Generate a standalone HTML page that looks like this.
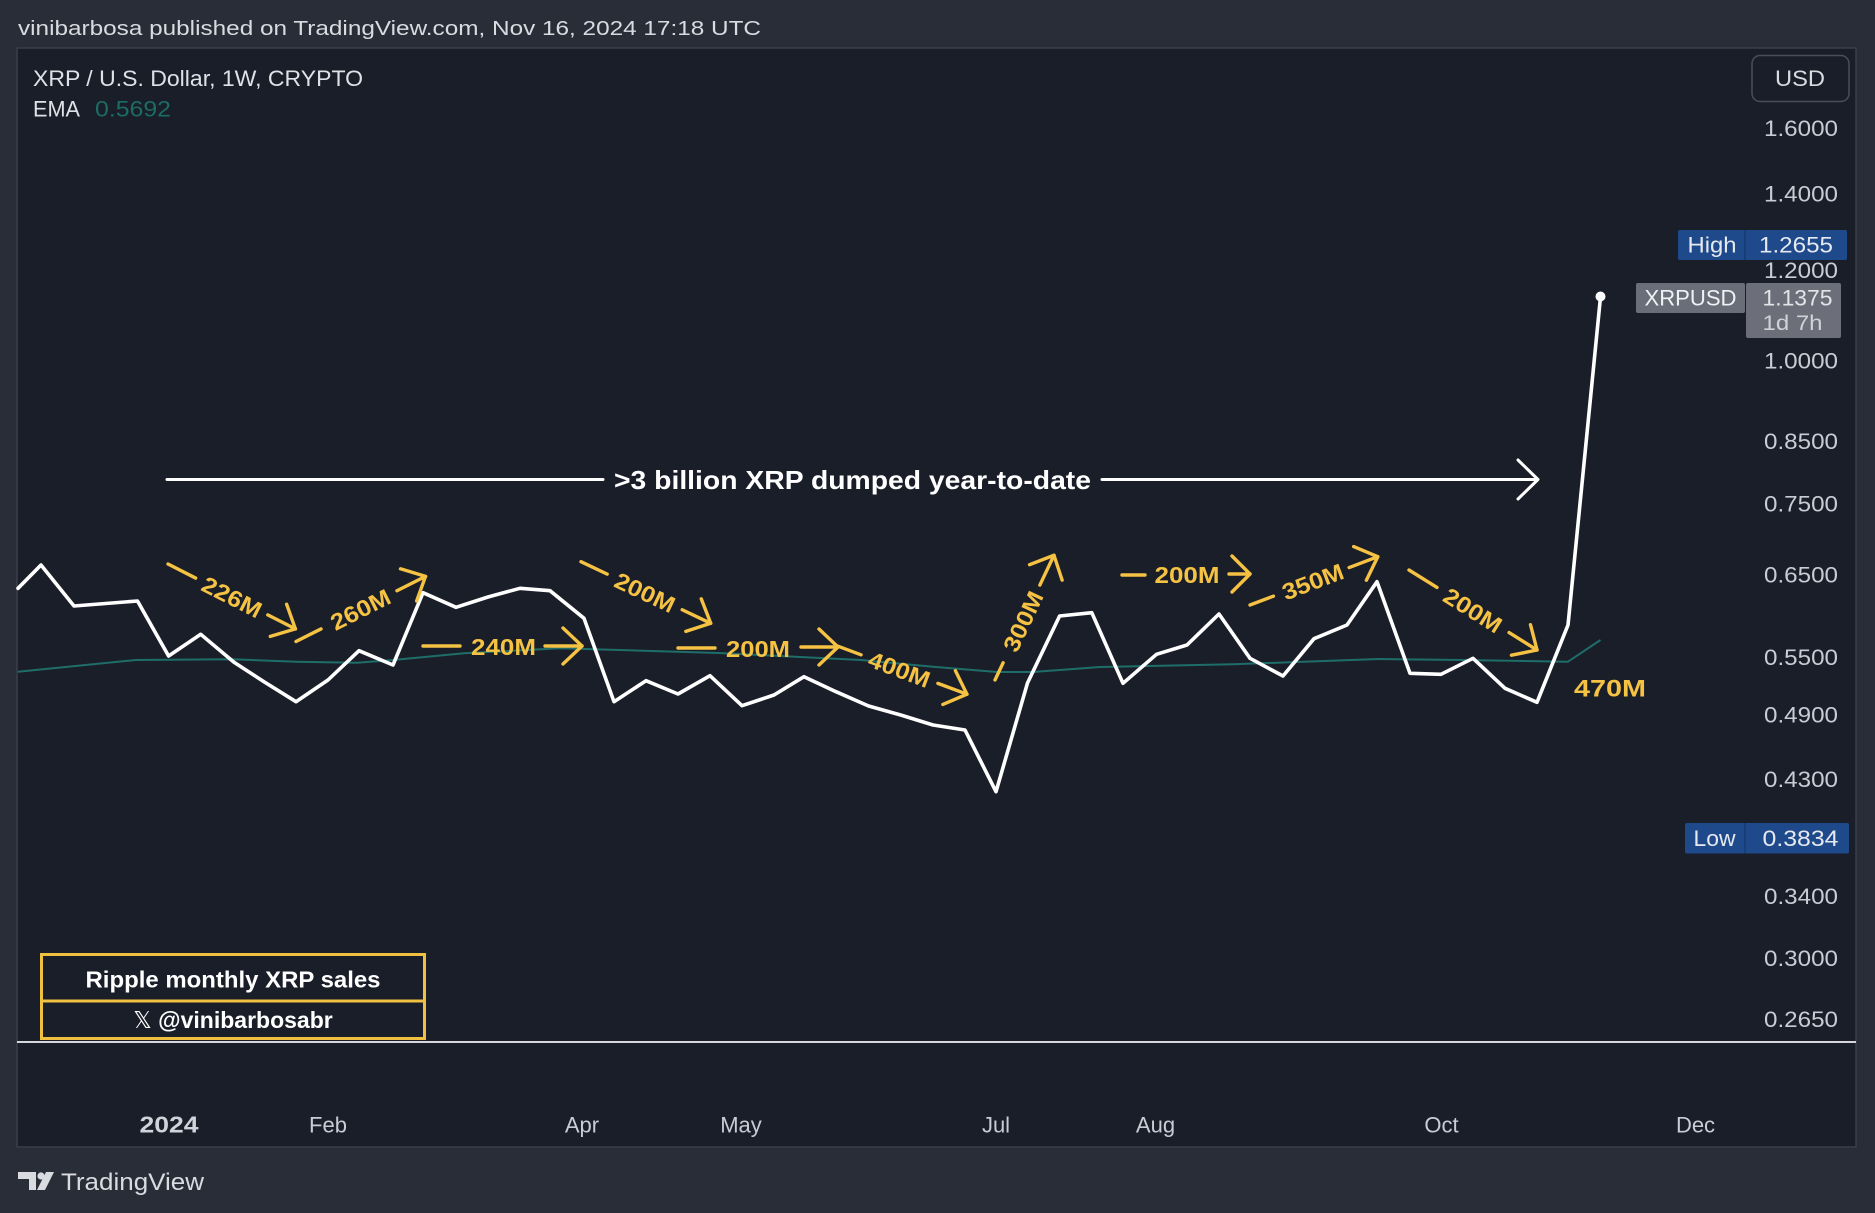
<!DOCTYPE html>
<html><head><meta charset="utf-8"><style>
html,body{margin:0;padding:0;background:#292d38;}
svg{display:block;}
text{font-family:"Liberation Sans",Arial,sans-serif;}
</style></head><body>
<svg width="1875" height="1213" viewBox="0 0 1875 1213" xmlns="http://www.w3.org/2000/svg">
<rect x="0" y="0" width="1875" height="1213" fill="#292d38"/>
<text x="18" y="35" font-size="20" fill="#d9dbe0" textLength="743" lengthAdjust="spacingAndGlyphs">vinibarbosa published on TradingView.com, Nov 16, 2024 17:18 UTC</text>
<rect x="17" y="48" width="1839" height="1099" fill="#1a1e29" stroke="#3a3e49" stroke-width="1.5"/>

<!-- title -->
<text x="33" y="86" font-size="22" fill="#dfe1e6" textLength="330" lengthAdjust="spacingAndGlyphs">XRP / U.S. Dollar, 1W, CRYPTO</text>
<text x="33" y="116.5" font-size="22" fill="#dfe1e6" textLength="47" lengthAdjust="spacingAndGlyphs">EMA</text>
<text x="95" y="116.5" font-size="22" fill="#1b6c65" textLength="76" lengthAdjust="spacingAndGlyphs">0.5692</text>

<!-- USD box -->
<rect x="1752" y="55.5" width="97" height="46" rx="8" fill="#1a1e29" stroke="#4a4e59" stroke-width="1.5"/>
<text x="1800" y="86" font-size="22" fill="#d9dbe0" text-anchor="middle" textLength="50" lengthAdjust="spacingAndGlyphs">USD</text>

<!-- price labels -->
<g font-size="22" fill="#c9ccd4" text-anchor="end">
<text x="1838" y="136" textLength="74" lengthAdjust="spacingAndGlyphs">1.6000</text>
<text x="1838" y="201.5" textLength="74" lengthAdjust="spacingAndGlyphs">1.4000</text>
<text x="1838" y="278" textLength="74" lengthAdjust="spacingAndGlyphs">1.2000</text>
<text x="1838" y="368.5" textLength="74" lengthAdjust="spacingAndGlyphs">1.0000</text>
<text x="1838" y="449" textLength="74" lengthAdjust="spacingAndGlyphs">0.8500</text>
<text x="1838" y="511.5" textLength="74" lengthAdjust="spacingAndGlyphs">0.7500</text>
<text x="1838" y="582.5" textLength="74" lengthAdjust="spacingAndGlyphs">0.6500</text>
<text x="1838" y="665" textLength="74" lengthAdjust="spacingAndGlyphs">0.5500</text>
<text x="1838" y="722.5" textLength="74" lengthAdjust="spacingAndGlyphs">0.4900</text>
<text x="1838" y="787" textLength="74" lengthAdjust="spacingAndGlyphs">0.4300</text>
<text x="1838" y="904" textLength="74" lengthAdjust="spacingAndGlyphs">0.3400</text>
<text x="1838" y="966" textLength="74" lengthAdjust="spacingAndGlyphs">0.3000</text>
<text x="1838" y="1027" textLength="74" lengthAdjust="spacingAndGlyphs">0.2650</text>
</g>

<!-- High -->
<rect x="1678" y="230" width="169" height="30" rx="2" fill="#1e4a8c"/>
<line x1="1745" y1="230" x2="1745" y2="260" stroke="#163a70" stroke-width="1.5"/>
<text x="1712" y="252.5" font-size="22" fill="#e6e9ef" text-anchor="middle" textLength="49" lengthAdjust="spacingAndGlyphs">High</text>
<text x="1796" y="252.5" font-size="22" fill="#e6e9ef" text-anchor="middle" textLength="74" lengthAdjust="spacingAndGlyphs">1.2655</text>

<!-- XRPUSD -->
<rect x="1636" y="283" width="109" height="30" rx="2" fill="#6a6e79"/>
<text x="1690.5" y="305.5" font-size="22" fill="#f0f1f4" text-anchor="middle" textLength="92" lengthAdjust="spacingAndGlyphs">XRPUSD</text>
<rect x="1746" y="283" width="95" height="55" rx="2" fill="#6c6f79"/>
<text x="1762.5" y="305.5" font-size="22" fill="#e4e5e9" textLength="70" lengthAdjust="spacingAndGlyphs">1.1375</text>
<text x="1762.5" y="330" font-size="21" fill="#d0d2d8" textLength="60" lengthAdjust="spacingAndGlyphs">1d 7h</text>

<!-- Low -->
<rect x="1685" y="823" width="164" height="30.5" rx="2" fill="#1e4a8c"/>
<line x1="1745" y1="823" x2="1745" y2="853.5" stroke="#163a70" stroke-width="1.5"/>
<text x="1714.5" y="846" font-size="22" fill="#e6e9ef" text-anchor="middle" textLength="42" lengthAdjust="spacingAndGlyphs">Low</text>
<text x="1800.5" y="846" font-size="22" fill="#e6e9ef" text-anchor="middle" textLength="76" lengthAdjust="spacingAndGlyphs">0.3834</text>

<!-- EMA line -->
<polyline fill="none" stroke="#1f6d69" stroke-width="2" stroke-linejoin="round" points="18,671.7 136,660 232,659.3 296,661.7 357,662.7 393,660 464,653.3 560,648.3 718.6,653 861,660 933,666.7 997,672 1033,672 1100,667 1233,664.3 1378.5,659 1463,660 1568,661.7 1600.5,640"/>

<!-- price line -->
<polyline fill="none" stroke="#ffffff" stroke-width="3.6" stroke-linejoin="round" stroke-linecap="round" points="18,588.3 41,565 74,606 105.6,603.5 137.5,601 168.6,656 200.7,634.3 234,662.3 264.4,682 296,701.7 328,680 359,650.7 393,665 423,592.7 456,607.3 488,597 520,588.3 550,590.7 584,618.3 614,701.7 646,680.7 678,694 710,675.7 742,705.7 774,695 804,676.7 836,691.7 868.6,706 900.7,715 933,725 965,730 996,791.7 1027.5,683 1059.6,616 1091.8,612.7 1123,683.3 1156.5,654.3 1187,645 1219,614 1250,658.3 1283,676 1314,638.7 1347,625 1377,581.7 1410,673.3 1441,674.3 1473,658.3 1505,688.3 1537,702.3 1568,625 1600.5,297"/>
<circle cx="1600.5" cy="296.5" r="5" fill="#ffffff"/>

<!-- big annotation -->
<g stroke="#ffffff" stroke-width="3" fill="none" stroke-linecap="round" stroke-linejoin="round">
<line x1="167" y1="479.5" x2="603" y2="479.5"/>
<line x1="1102" y1="479.5" x2="1537" y2="479.5"/>
<polyline points="1518,460 1538,479.5 1518,499"/>
</g>
<text x="614" y="489" font-size="26" font-weight="bold" fill="#ffffff" textLength="477" lengthAdjust="spacingAndGlyphs">&gt;3 billion XRP dumped year-to-date</text>

<!-- yellow annotations -->
<g stroke="#f5c243" stroke-width="3.4" fill="none" stroke-linecap="round" stroke-linejoin="round">
<line x1="423" y1="646" x2="460" y2="646"/>
<line x1="545" y1="646" x2="582" y2="646"/>
<polyline points="563,628 582,646 563,664"/>
<line x1="678" y1="648" x2="715" y2="648"/>
<line x1="801" y1="647" x2="838" y2="647"/>
<polyline points="819,629 838,647 819,665"/>
<line x1="1122" y1="575" x2="1145" y2="575"/>
<line x1="1229" y1="574" x2="1250" y2="574"/>
<polyline points="1232,556 1250,574 1232,592"/>
</g>
<g font-size="23" font-weight="bold" fill="#f5c243" text-anchor="middle">
<text x="503.5" y="655" textLength="65" lengthAdjust="spacingAndGlyphs">240M</text>
<text x="758" y="657" textLength="64" lengthAdjust="spacingAndGlyphs">200M</text>
<text x="1187" y="583" textLength="65" lengthAdjust="spacingAndGlyphs">200M</text>
</g>

<!-- rotated annotations -->
<g font-size="23" font-weight="bold" fill="#f5c243" text-anchor="middle">
<g transform="translate(168,564) rotate(27)">
<g stroke="#f5c243" stroke-width="3.4" fill="none" stroke-linecap="round" stroke-linejoin="round"><line x1="0" y1="0" x2="31" y2="0"/><line x1="112" y1="0" x2="143" y2="0"/><polyline points="124,-18 143,0 124,18"/></g>
<text x="72" y="8.5" textLength="64" lengthAdjust="spacingAndGlyphs">226M</text></g>

<g transform="translate(296,641.5) rotate(-26.7)">
<g stroke="#f5c243" stroke-width="3.4" fill="none" stroke-linecap="round" stroke-linejoin="round"><line x1="0" y1="0" x2="28" y2="0"/><line x1="113" y1="0" x2="145" y2="0"/><polyline points="126,-18 145,0 126,18"/></g>
<text x="72" y="8.5" textLength="64" lengthAdjust="spacingAndGlyphs">260M</text></g>

<g transform="translate(581,561.7) rotate(25.4)">
<g stroke="#f5c243" stroke-width="3.4" fill="none" stroke-linecap="round" stroke-linejoin="round"><line x1="0" y1="0" x2="29" y2="0"/><line x1="112" y1="0" x2="143.6" y2="0"/><polyline points="124.6,-18 143.6,0 124.6,18"/></g>
<text x="71" y="8.5" textLength="64" lengthAdjust="spacingAndGlyphs">200M</text></g>

<g transform="translate(832,644) rotate(20.4)">
<g stroke="#f5c243" stroke-width="3.4" fill="none" stroke-linecap="round" stroke-linejoin="round"><line x1="6" y1="0" x2="31" y2="0"/><line x1="113" y1="0" x2="144" y2="0"/><polyline points="125,-18 144,0 125,18"/></g>
<text x="72" y="8.5" textLength="64" lengthAdjust="spacingAndGlyphs">400M</text></g>

<g transform="translate(995,680) rotate(-64.7)">
<g stroke="#f5c243" stroke-width="3.4" fill="none" stroke-linecap="round" stroke-linejoin="round"><line x1="0" y1="0" x2="19" y2="0"/><line x1="105" y1="0" x2="138" y2="0"/><polyline points="119,-18 138,0 119,18"/></g>
<text x="65" y="8.5" textLength="64" lengthAdjust="spacingAndGlyphs">300M</text></g>

<g transform="translate(1250,605) rotate(-20.7)">
<g stroke="#f5c243" stroke-width="3.4" fill="none" stroke-linecap="round" stroke-linejoin="round"><line x1="0" y1="0" x2="25" y2="0"/><line x1="106" y1="0" x2="136.6" y2="0"/><polyline points="117.6,-18 136.6,0 117.6,18"/></g>
<text x="67" y="8.5" textLength="64" lengthAdjust="spacingAndGlyphs">350M</text></g>

<g transform="translate(1409,570) rotate(32)">
<g stroke="#f5c243" stroke-width="3.4" fill="none" stroke-linecap="round" stroke-linejoin="round"><line x1="0" y1="0" x2="33" y2="0"/><line x1="118" y1="0" x2="151" y2="0"/><polyline points="132,-18 151,0 132,18"/></g>
<text x="75.5" y="8.5" textLength="64" lengthAdjust="spacingAndGlyphs">200M</text></g>
</g>

<text x="1574" y="696.5" font-size="24" font-weight="bold" fill="#f5c243" textLength="72" lengthAdjust="spacingAndGlyphs">470M</text>

<!-- legend box -->
<rect x="41.5" y="954.5" width="383" height="84" fill="#1a1e29" stroke="#f0c040" stroke-width="3"/>
<line x1="41.5" y1="1001" x2="424.5" y2="1001" stroke="#f0c040" stroke-width="3"/>
<text x="233" y="987.5" font-size="23" font-weight="bold" fill="#ffffff" text-anchor="middle" textLength="295" lengthAdjust="spacingAndGlyphs">Ripple monthly XRP sales</text>
<text x="233" y="1028" font-size="23" font-weight="bold" fill="#ffffff" text-anchor="middle"><tspan font-family="DejaVu Sans, sans-serif" font-weight="normal">𝕏</tspan> @vinibarbosabr</text>

<!-- axis line -->
<line x1="17" y1="1042" x2="1856" y2="1042" stroke="#d6d7da" stroke-width="2"/>

<!-- time labels -->
<g font-size="22" fill="#c9ccd4" text-anchor="middle">
<text x="169" y="1132.5" font-weight="bold" font-size="23" textLength="59" lengthAdjust="spacingAndGlyphs" fill="#d0d3da">2024</text>
<text x="328" y="1132.5">Feb</text>
<text x="582" y="1132.5">Apr</text>
<text x="741" y="1132.5">May</text>
<text x="996" y="1132.5">Jul</text>
<text x="1155.5" y="1132.5">Aug</text>
<text x="1441.5" y="1132.5">Oct</text>
<text x="1695.5" y="1132.5">Dec</text>
</g>

<!-- TradingView logo -->
<g fill="#d9dbe0">
<path d="M18,1172 H36 V1190 H29 V1179 H18 Z"/>
<circle cx="41" cy="1176" r="3.6"/>
<path d="M46,1172 H54 L45,1190 H37 Z"/>
</g>
<text x="61" y="1190" font-size="24" fill="#d9dbe0" textLength="143" lengthAdjust="spacingAndGlyphs">TradingView</text>
</svg>
</body></html>
